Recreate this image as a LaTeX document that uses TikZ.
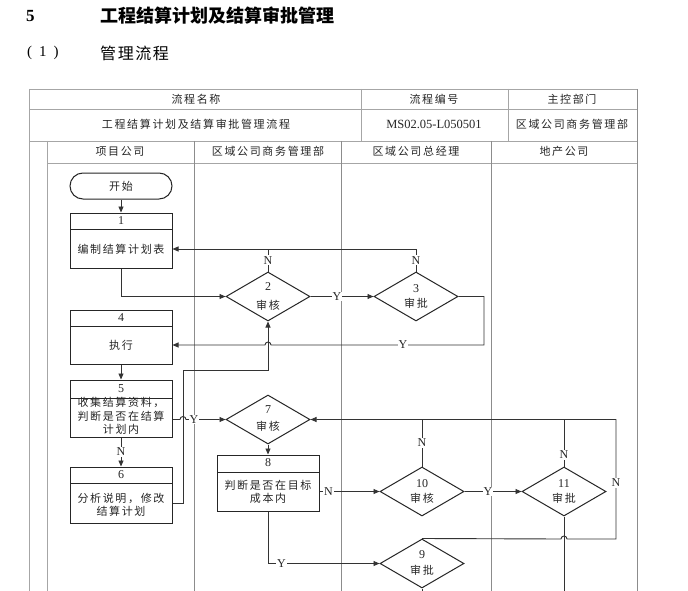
\documentclass[tikz,border=0pt]{standalone}
\usepackage{fontspec}
\setmainfont{Liberation Serif}
\newfontfamily\cjk[LetterSpace=15]{Noto Sans CJK SC}
\newfontfamily\cjktitle{Noto Sans CJK SC}
\newfontfamily\cjksub[LetterSpace=10]{Noto Sans CJK SC}
\usetikzlibrary{shapes.geometric,arrows.meta,calc}
\begin{document}
\begin{tikzpicture}[x=1pt,y=-1pt,
  tbl/.style={draw=black!35, line width=0.7pt},
  lane/.style={draw=black!45, line width=0.7pt},
  cell/.style={font=\cjk\fontsize{11}{12}\selectfont, inner sep=0pt, text=black!85},
  proc/.style={draw=black!85, line width=1pt, minimum width=102pt, inner sep=0pt},
  term/.style={draw=black!85, line width=1pt, rounded corners=13pt, minimum width=102pt, minimum height=26pt, inner sep=0pt},
  dia/.style={diamond, draw=black!85, line width=1pt, minimum width=84pt, minimum height=49pt, inner sep=0pt},
  num/.style={font=\fontsize{12}{12}\selectfont, inner sep=0pt, text=black!85},
  txt/.style={font=\cjk\fontsize{11}{13.5}\selectfont, align=center, inner sep=0pt, text=black!85},
  lbl/.style={font=\fontsize{12}{12}\selectfont, fill=white, inner sep=1pt, text=black!85},
  flow/.style={draw=black!80, line width=0.9pt},
  arr/.style={flow, -{Triangle[length=6pt,width=5pt]}},
  sep/.style={draw=black!85, line width=1pt}
]
\useasboundingbox (0,0) rectangle (688,591);
\fill[white] (0,0) rectangle (688,591);

% headings
\node[anchor=west, font=\bfseries\fontsize{17}{17}\selectfont, inner sep=0pt] (h5) at (26,16) {5};
\node[anchor=west, font=\cjktitle\bfseries\fontsize{18}{18}\selectfont, inner sep=0pt] (htitle) at (100,16) {工程结算计划及结算审批管理};
\node[anchor=west, font=\fontsize{15}{15}\selectfont, inner sep=0pt] (hsub1) at (27,53) {(\hspace{7pt}1\hspace{7pt})};
\node[anchor=west, font=\cjksub\fontsize{16}{16}\selectfont, inner sep=0pt] (hsub2) at (100,53) {管理流程};

% table frame
\draw[tbl] (29,89) -- (637,89);
\draw[tbl] (29,109) -- (637,109);
\draw[tbl] (29,141) -- (637,141);
\draw[tbl] (47,163) -- (637,163);
\draw[tbl] (361,89) -- (361,141);
\draw[tbl] (508,89) -- (508,141);
\draw[tbl] (29,89) -- (29,591);
\draw[tbl] (47,141) -- (47,591);
\draw[lane] (637,89) -- (637,591);
\draw[lane] (194,141) -- (194,591);
\draw[lane] (341,141) -- (341,591);
\draw[lane] (491,141) -- (491,591);

\node[cell] (c11) at (196,99) {流程名称};
\node[cell] (c12) at (434,99) {流程编号};
\node[cell] (c13) at (572,99) {主控部门};
\node[cell] (c21) at (196,124) {工程结算计划及结算审批管理流程};
\node[font=\fontsize{12.5}{12.5}\selectfont, inner sep=0pt, text=black!85] (c22) at (434,124) {MS02.05-L050501};
\node[cell] (c23) at (572,124) {区域公司商务管理部};
\node[cell] (l1) at (120,151) {项目公司};
\node[cell] (l2) at (268,151) {区域公司商务管理部};
\node[cell] (l3) at (416,151) {区域公司总经理};
\node[cell] (l4) at (564,151) {地产公司};

% flow nodes
\node[term] (start) at (121,186) {};
\node[txt] (startt) at (121,186) {开始};

\node[proc, minimum height=55pt] (b1) at (121,240.5) {};
\draw[sep] (70,229) -- (172,229);
\node[num] (b1n) at (121,221) {1};
\node[txt] (b1t) at (121,249) {编制结算计划表};

\node[proc, minimum height=54pt] (b4) at (121,337) {};
\draw[sep] (70,326) -- (172,326);
\node[num] (b4n) at (121,318) {4};
\node[txt] (b4t) at (121,345) {执行};

\node[proc, minimum height=57pt] (b5) at (121,408.5) {};
\draw[sep] (70,398) -- (172,398);
\node[num] (b5n) at (121,389) {5};
\node[txt] (b5t) at (121,416) {收集结算资料，\\判断是否在结算\\计划内};

\node[proc, minimum height=56pt] (b6) at (121,495) {};
\draw[sep] (70,483) -- (172,483);
\node[num] (b6n) at (121,475) {6};
\node[txt] (b6t) at (121,505) {分析说明，修改\\结算计划};

\node[proc, minimum height=56pt] (b8) at (268,483) {};
\draw[sep] (217,472) -- (319,472);
\node[num] (b8n) at (268,463) {8};
\node[txt] (b8t) at (268,492) {判断是否在目标\\成本内};

\node[dia] (d2) at (268,296.5) {};
\node[num] (d2n) at (268,287) {2};
\node[txt] (d2t) at (268,305) {审核};

\node[dia] (d3) at (416,296.5) {};
\node[num] (d3n) at (416,289) {3};
\node[txt] (d3t) at (416,303) {审批};

\node[dia] (d7) at (268,419.5) {};
\node[num] (d7n) at (268,410) {7};
\node[txt] (d7t) at (268,426) {审核};

\node[dia] (d10) at (422,491.5) {};
\node[num] (d10n) at (422,484) {10};
\node[txt] (d10t) at (422,498) {审核};

\node[dia] (d11) at (564,491.5) {};
\node[num] (d11n) at (564,484) {11};
\node[txt] (d11t) at (564,498) {审批};

\node[dia] (d9) at (422,563.5) {};
\node[num] (d9n) at (422,555) {9};
\node[txt] (d9t) at (422,570) {审批};

% helper coordinates
\coordinate (jn1) at (268,249);
\coordinate (jn2) at (416,249);
\coordinate (c3r) at (484,345);
\coordinate (k1) at (183,503);
\coordinate (k2) at (183,370);
\coordinate (r1) at (616,419.5);
\coordinate (r2) at (616,539);
\coordinate (bot11) at (564,591);
\coordinate (bot9) at (422,591);

% connectors
\draw[arr] (start) -- (b1);
\draw[arr] (b1.south) |- (d2.west);
\draw[arr] (d2.east) -- node[lbl, pos=0.42]{Y} (d3.west);
\draw[flow] (d2.north) -- node[lbl]{N} (jn1);
\draw[arr] (d3.north) -- node[lbl]{N} (jn2) -- (b1.east |- jn2);
\draw[arr] (d3.east) -| (c3r) -- node[lbl, pos=0.38]{Y} (271,345) arc[start angle=0, end angle=180, radius=3pt] -- (b4.east |- c3r);
\draw[arr] (b4) -- (b5);
\draw[arr] (b5.east |- d7) -- (180,419.5) arc[start angle=180, end angle=0, radius=3pt] -- node[lbl, pos=0.2]{Y} (d7.west);
\draw[arr] (b5) -- node[lbl]{N} (b6);
\draw[arr] (b6.east |- k1) -- (k1) -- (k2) -| (d2.south);
\draw[arr] (d7) -- (b8);
\draw[arr] (b8.east |- d10) -- node[lbl, pos=0.15]{N} (d10.west);
\draw[arr] (d10.east) -- node[lbl, pos=0.41]{Y} (d11.west);
\draw[flow] (d10.north) -- node[lbl]{N} (d10.north |- r1);
\draw[flow] (d11.north) -- node[lbl, pos=0.25]{N} (d11.north |- r1);
\draw[arr] (d9.north) -- (561,539) arc[start angle=180, end angle=0, radius=3pt] -- (r2) -- node[lbl, pos=0.47]{N} (r1) -- (d7.east);
\draw[flow] (d11.south) -- (bot11);
\draw[arr] (b8.south) |- node[lbl, pos=0.56]{Y} (d9.west);
\draw[flow] (d9.south) -- (bot9);
\end{tikzpicture}
\end{document}
